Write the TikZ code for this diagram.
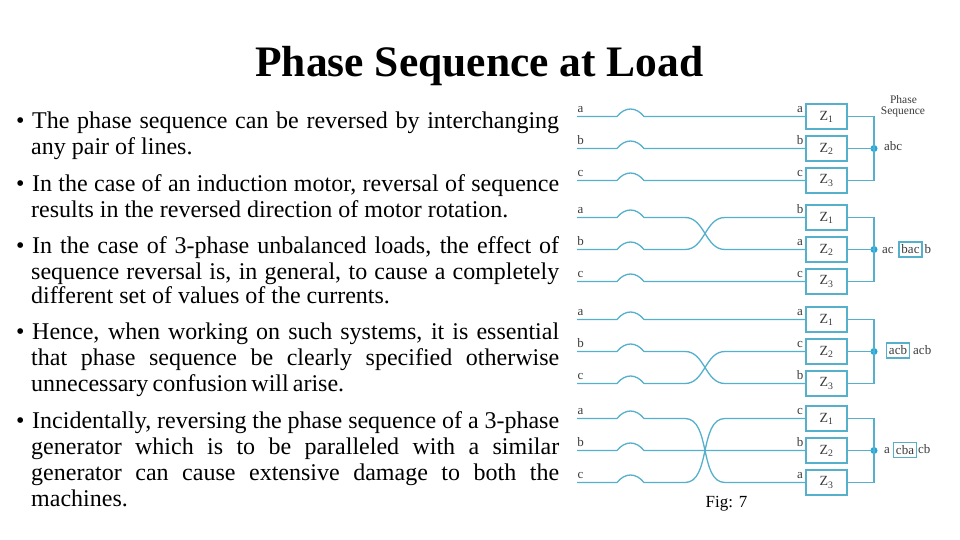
\documentclass[tikz,border=0pt]{standalone}
\usepackage{fontspec}
\setmainfont{Liberation Serif}
\newcommand{\jl}[1]{\makebox[527pt][s]{#1}}
\newcommand{\hump}{-- ++(40,0) .. controls +(8,-10) and +(-8,-10) .. ++(27,0)}
\newcommand{\grp}[7]{%
  \node[zbox] (#1z1) at (826.5,#2) {Z\textsubscript{1}};
  \node[zbox] (#1z2) at (826.5,#3) {Z\textsubscript{2}};
  \node[zbox] (#1z3) at (826.5,#4) {Z\textsubscript{3}};
  \coordinate (#1l1) at (577,#2);
  \coordinate (#1l2) at (577,#3);
  \coordinate (#1l3) at (577,#4);
  \node[wlabel] (#1ta) at (580.5,#2-4) {a};
  \node[wlabel] (#1tb) at (580.5,#3-4) {b};
  \node[wlabel] (#1tc) at (580.5,#4-4) {c};
  \node[wlabel] (#1ra) at (800,#2-4) {#5};
  \node[wlabel] (#1rb) at (800,#3-4) {#6};
  \node[wlabel] (#1rc) at (800,#4-4) {#7};
  \node[jdot] (#1j) at (874,#3) {};
  \draw[wire] (#1z1.east) -| (#1j.center);
  \draw[wire] (#1z3.east) -| (#1j.center);
  \draw[wire] (#1z2.east) -- (#1j.center);
}
\tikzset{
  bodytext/.style={inner sep=0pt,font=\fontsize{24pt}{25.5pt}\selectfont,text=black},
  wire/.style={draw=wirecol,line width=1.3pt},
  zbox/.style={draw=wirecol,line width=1.3pt,minimum width=41pt,minimum height=25pt,inner sep=0pt,fill=white,text=zdark,font=\fontsize{14pt}{14pt}\selectfont},
  wlabel/.style={inner sep=0pt,anchor=base,text=zdark,font=\fontsize{13pt}{13pt}\selectfont},
  seqtext/.style={inner sep=0pt,anchor=base west,text=zdark,font=\fontsize{13pt}{13pt}\selectfont},
  seqbox/.style={seqtext,anchor=center,draw=wirecol,line width=1.2pt,minimum width=23pt,minimum height=15pt},
  jdot/.style={circle,fill=dotcol,inner sep=0pt,minimum size=7pt},
}
\definecolor{wirecol}{HTML}{55B0CC}
\definecolor{dotcol}{HTML}{1AA7E0}
\definecolor{zdark}{HTML}{3A3A3A}
\begin{document}
\begin{tikzpicture}[x=1pt,y=-1pt]
\useasboundingbox (0,0) rectangle (960,540);
\node[inner sep=0pt,anchor=base,font=\bfseries\fontsize{43.5pt}{44pt}\selectfont] (title) at (479.5,77) {Phase Sequence at Load};
\node[bodytext,anchor=base west] (b1) at (16,129) {•};
\node[bodytext,anchor=base west] (b2) at (16,191) {•};
\node[bodytext,anchor=base west] (b3) at (16,253) {•};
\node[bodytext,anchor=base west] (b4) at (16,339.5) {•};
\node[bodytext,anchor=base west] (b5) at (16,428) {•};
\node[bodytext,anchor=base west] (t11) at (32,129) {\jl{The phase sequence can be reversed by interchanging}};
\node[bodytext,anchor=base west] (t12) at (31,155) {any pair of lines.};
\node[bodytext,anchor=base west] (t21) at (32,191) {\jl{In the case of an induction motor, reversal of sequence}};
\node[bodytext,anchor=base west] (t22) at (31,217) {results in the reversed direction of motor rotation.};
\node[bodytext,anchor=base west] (t31) at (32,253) {\jl{In the case of 3-phase unbalanced loads, the effect of}};
\node[bodytext,anchor=base west] (t32) at (31,279) {\makebox[528pt][s]{sequence reversal is, in general, to cause a completely}};
\node[bodytext,anchor=base west] (t33) at (31,303.5) {different set of values of the currents.};
\node[bodytext,anchor=base west] (t41) at (32,339.5) {\jl{Hence, when working on such systems, it is essential}};
\node[bodytext,anchor=base west] (t42) at (31,365.5) {\makebox[528pt][s]{that phase sequence be clearly specified otherwise}};
\node[bodytext,anchor=base west] (t43) at (31,391) {\makebox[313pt][s]{unnecessary confusion will arise.}};
\node[bodytext,anchor=base west] (t51) at (32,428) {\jl{Incidentally, reversing the phase sequence of a 3-phase}};
\node[bodytext,anchor=base west] (t52) at (31,454) {\makebox[528pt][s]{generator which is to be paralleled with a similar}};
\node[bodytext,anchor=base west] (t53) at (31,480) {\makebox[528pt][s]{generator can cause extensive damage to both the}};
\node[bodytext,anchor=base west] (t54) at (31,506) {machines.};
% group 1
\grp{A}{116.5}{148.5}{180.5}{a}{b}{c}
\draw[wire] (Al1) \hump -- (Az1.west);
\draw[wire] (Al2) \hump -- (Az2.west);
\draw[wire] (Al3) \hump -- (Az3.west);
\node[wlabel,font=\fontsize{11.5pt}{11.5pt}\selectfont] (Ps1) at (903.5,104) {Phase};
\node[wlabel,font=\fontsize{11.5pt}{11.5pt}\selectfont] (Ps2) at (903,115) {Sequence};
\node[seqtext] (As) at (884,151) {abc};
% group 2
\grp{B}{217.5}{249.5}{281.5}{b}{a}{c}
\draw[wire] (Bl1) \hump -- (685,217.5) .. controls (705,217.5) and (705,249.5) .. (725,249.5) -- (Bz2.west);
\draw[wire] (Bl2) \hump -- (685,249.5) .. controls (705,249.5) and (705,217.5) .. (725,217.5) -- (Bz1.west);
\draw[wire] (Bl3) \hump -- (Bz3.west);
\node[seqtext] (Bs1) at (882,253) {ac};
\node[seqbox] (Bs2) at (910.5,249.5) {bac};
\node[seqtext] (Bs3) at (924.5,253) {b};
% group 3
\grp{C}{319.5}{351.5}{383.5}{a}{c}{b}
\draw[wire] (Cl1) \hump -- (Cz1.west);
\draw[wire] (Cl2) \hump -- (685,351.5) .. controls (705,351.5) and (705,383.5) .. (725,383.5) -- (Cz3.west);
\draw[wire] (Cl3) \hump -- (685,383.5) .. controls (705,383.5) and (705,351.5) .. (725,351.5) -- (Cz2.west);
\node[seqbox] (Cs1) at (898,350.5) {acb};
\node[seqtext] (Cs2) at (913,354) {acb};
% group 4
\grp{D}{418.5}{450.5}{482.5}{c}{b}{a}
\draw[wire] (Dl1) \hump -- (685,418.5) .. controls (711,418.5) and (699,482.5) .. (725,482.5) -- (Dz3.west);
\draw[wire] (Dl2) \hump -- (Dz2.west);
\draw[wire] (Dl3) \hump -- (685,482.5) .. controls (711,482.5) and (699,418.5) .. (725,418.5) -- (Dz1.west);
\node[seqtext] (Ds1) at (884,453) {a};
\node[seqbox] (Ds2) at (905,450) {cba};
\node[seqtext] (Ds3) at (918,453) {cb};
\node[inner sep=0pt,anchor=base,font=\fontsize{17pt}{17pt}\selectfont] (fig) at (726.5,507) {Fig: 7};
\end{tikzpicture}
\end{document}
